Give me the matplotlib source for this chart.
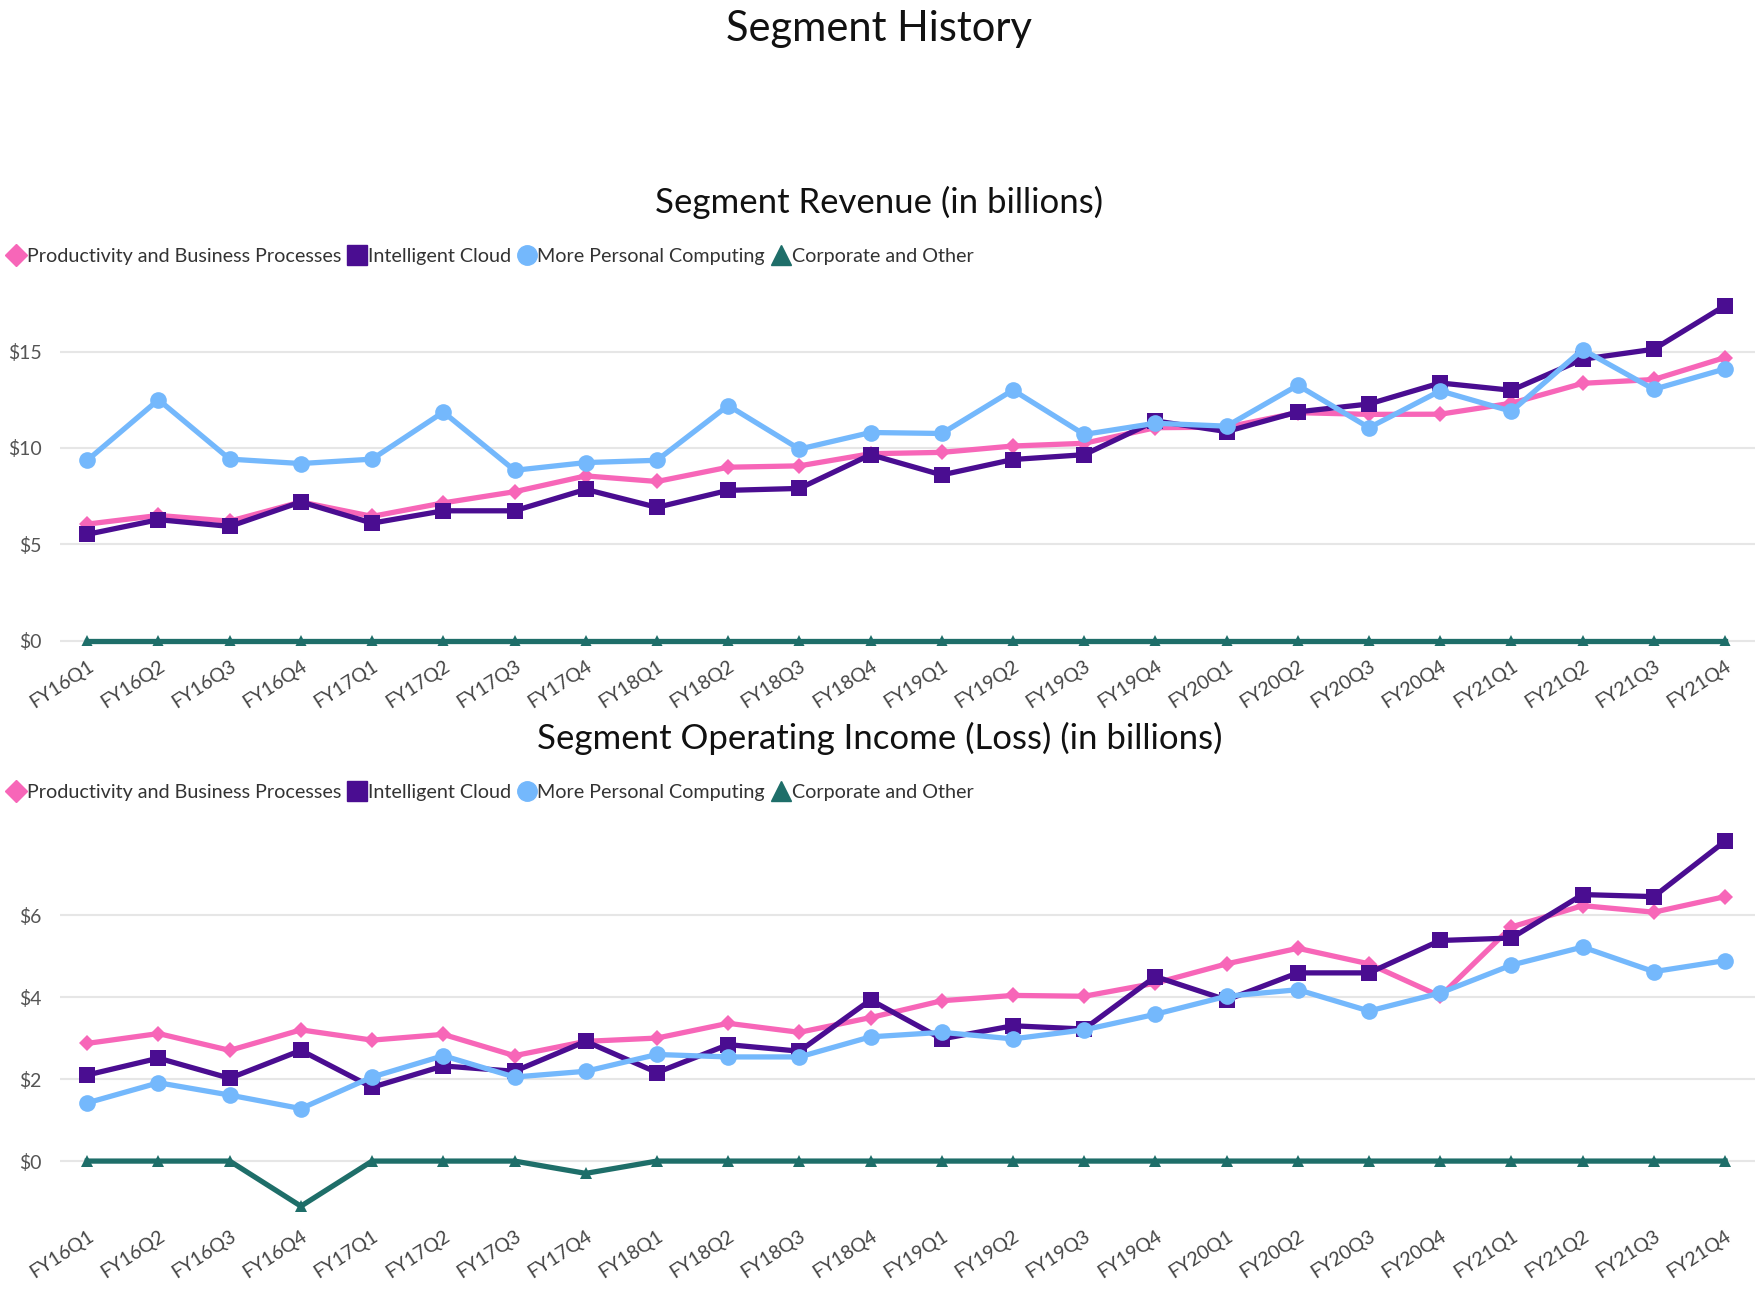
import numpy as np
import matplotlib
matplotlib.use('Agg')
import matplotlib.pyplot as plt
from matplotlib.lines import Line2D

plt.rcParams['font.family'] = ['Lato', 'DejaVu Sans']

quarters = ['FY16Q1', 'FY16Q2', 'FY16Q3', 'FY16Q4', 'FY17Q1', 'FY17Q2', 'FY17Q3', 'FY17Q4',
            'FY18Q1', 'FY18Q2', 'FY18Q3', 'FY18Q4', 'FY19Q1', 'FY19Q2', 'FY19Q3', 'FY19Q4',
            'FY20Q1', 'FY20Q2', 'FY20Q3', 'FY20Q4', 'FY21Q1', 'FY21Q2', 'FY21Q3', 'FY21Q4']
segments = ['Productivity and Business Processes', 'Intelligent Cloud',
            'More Personal Computing', 'Corporate and Other']

# revenue, billions
rev_pbp = [6.05, 6.5, 6.2, 7.2, 6.45, 7.15, 7.73, 8.55, 8.26, 9.0, 9.07, 9.7,
           9.77, 10.1, 10.24, 11.05, 11.08, 11.83, 11.74, 11.75, 12.32, 13.35, 13.55, 14.69]
rev_ic = [5.52, 6.28, 5.93, 7.2, 6.1, 6.74, 6.74, 7.85, 6.92, 7.8, 7.9, 9.65,
          8.6, 9.4, 9.65, 11.4, 10.85, 11.87, 12.28, 13.37, 12.99, 14.6, 15.12, 17.38]
rev_mpc = [9.36, 12.5, 9.42, 9.19, 9.42, 11.86, 8.84, 9.24, 9.36, 12.2, 9.94, 10.8,
           10.75, 13.0, 10.7, 11.28, 11.13, 13.25, 11.05, 12.96, 11.9, 15.1, 13.04, 14.1]
rev_corp = [0.0] * 24

# operating income (loss), billions
oi_pbp = [2.87, 3.11, 2.70, 3.2, 2.95, 3.09, 2.57, 2.92, 3.0, 3.36, 3.14, 3.5,
          3.91, 4.04, 4.02, 4.34, 4.81, 5.19, 4.81, 4.02, 5.71, 6.23, 6.07, 6.45]
oi_ic = [2.1, 2.51, 2.02, 2.7, 1.8, 2.32, 2.19, 2.92, 2.16, 2.84, 2.68, 3.93,
         2.98, 3.3, 3.22, 4.5, 3.93, 4.59, 4.59, 5.38, 5.44, 6.5, 6.45, 7.8]
oi_mpc = [1.42, 1.91, 1.61, 1.28, 2.05, 2.57, 2.05, 2.19, 2.6, 2.54, 2.54, 3.03,
          3.14, 2.98, 3.2, 3.58, 4.02, 4.18, 3.66, 4.1, 4.78, 5.22, 4.62, 4.89]
oi_corp = [0, 0, 0, -1.1, 0, 0, 0, -0.3, 0, 0, 0, 0,
           0, 0, 0, 0, 0, 0, 0, 0, 0, 0, 0, 0]

colors = ['#F766B8', '#4A0D91', '#74B8FC', '#1E6E69']
markers = ['D', 's', 'o', '^']
msizes = [8, 12, 12, 9]

fig = plt.figure(figsize=(17.59, 12.97), dpi=100)
ax1 = fig.add_axes([0.034, 0.503, 0.9637, 0.278])
ax2 = fig.add_axes([0.034, 0.0637, 0.9637, 0.294])

x = np.arange(len(quarters))


def draw(ax, series, yticks, ylim):
    for s, c, m, ms in zip(series, colors, markers, msizes):
        ax.plot(x, s, color=c, lw=3.8, marker=m, markersize=ms, markeredgewidth=0)
    ax.set_xlim(-0.386, 23.42)
    ax.set_ylim(*ylim)
    ax.set_yticks(yticks)
    ax.set_yticklabels([f'${v}' for v in yticks], color='#555555', fontsize=14)
    ax.set_xticks(x)
    ax.set_xticklabels(quarters, rotation=33, ha='right', va='top',
                       rotation_mode='anchor', color='#444444', fontsize=14)
    ax.tick_params(length=0)
    ax.tick_params(axis='y', pad=13)
    ax.tick_params(axis='x', pad=9)
    ax.grid(axis='y', color='#E6E6E6', lw=1.5)
    ax.set_axisbelow(True)
    for sp in ax.spines.values():
        sp.set_visible(False)


draw(ax1, [rev_pbp, rev_ic, rev_mpc, rev_corp], [0, 5, 10, 15], (-0.2, 18.5))
draw(ax2, [oi_pbp, oi_ic, oi_mpc, oi_corp], [0, 2, 4, 6], (-1.3, 8.0))

fig.text(0.5, 0.978, 'Segment History', ha='center', va='center',
         fontsize=30, color='#111111')
fig.text(0.5, 0.844, 'Segment Revenue (in billions)', ha='center', va='center',
         fontsize=25, color='#111111')
fig.text(0.5, 0.431, 'Segment Operating Income (Loss) (in billions)', ha='center', va='center',
         fontsize=25, color='#111111')

handles = [Line2D([], [], color=c, marker=m, ls='none', markersize=14 if m != 'D' else 11)
           for c, m in zip(colors, markers)]
for y in [0.8026, 0.389]:
    fig.legend(handles, segments, loc='center left', bbox_to_anchor=(0.0, y),
               ncol=4, frameon=False, fontsize=14.2, handlelength=0.8,
               handletextpad=0.15, columnspacing=0.4, borderaxespad=0,
               labelcolor='#333333')

fig.savefig('out.png', dpi=100)
